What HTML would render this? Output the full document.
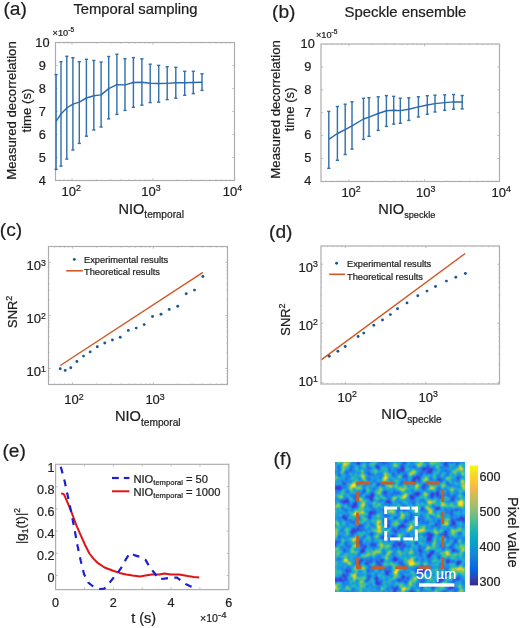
<!DOCTYPE html><html><head><meta charset="utf-8"><style>html,body{margin:0;padding:0;background:#fff;width:520px;height:628px;overflow:hidden}svg{display:block;font-family:"Liberation Sans", sans-serif;will-change:transform} text{stroke-width:0.22px}</style></head><body>
<svg width="520" height="628" viewBox="0 0 520 628">
<rect width="520" height="628" fill="#fff"/>
<text x="3.4" y="14.6" font-size="19.2" text-anchor="start" fill="#1e1e1e" stroke="#1e1e1e" >(a)</text>
<text x="73.4" y="14.4" font-size="14.8" text-anchor="start" fill="#1e1e1e" stroke="#1e1e1e" >Temporal sampling</text>
<rect x="55.5" y="42.5" width="179.0" height="138.0" fill="none" stroke="#adadad" stroke-width="1.2"/>
<line x1="55.5" y1="65.5" x2="57.7" y2="65.5" stroke="#adadad" stroke-width="0.8" />
<line x1="234.5" y1="65.5" x2="232.3" y2="65.5" stroke="#adadad" stroke-width="0.8" />
<line x1="55.5" y1="88.5" x2="57.7" y2="88.5" stroke="#adadad" stroke-width="0.8" />
<line x1="234.5" y1="88.5" x2="232.3" y2="88.5" stroke="#adadad" stroke-width="0.8" />
<line x1="55.5" y1="111.5" x2="57.7" y2="111.5" stroke="#adadad" stroke-width="0.8" />
<line x1="234.5" y1="111.5" x2="232.3" y2="111.5" stroke="#adadad" stroke-width="0.8" />
<line x1="55.5" y1="134.5" x2="57.7" y2="134.5" stroke="#adadad" stroke-width="0.8" />
<line x1="234.5" y1="134.5" x2="232.3" y2="134.5" stroke="#adadad" stroke-width="0.8" />
<line x1="55.5" y1="157.5" x2="57.7" y2="157.5" stroke="#adadad" stroke-width="0.8" />
<line x1="234.5" y1="157.5" x2="232.3" y2="157.5" stroke="#adadad" stroke-width="0.8" />
<text x="42.4" y="46.9" font-size="12.8" text-anchor="middle" fill="#1e1e1e" stroke="#1e1e1e" >10</text>
<text x="42.4" y="69.9" font-size="12.8" text-anchor="middle" fill="#1e1e1e" stroke="#1e1e1e" >9</text>
<text x="42.4" y="92.9" font-size="12.8" text-anchor="middle" fill="#1e1e1e" stroke="#1e1e1e" >8</text>
<text x="42.4" y="115.9" font-size="12.8" text-anchor="middle" fill="#1e1e1e" stroke="#1e1e1e" >7</text>
<text x="42.4" y="138.9" font-size="12.8" text-anchor="middle" fill="#1e1e1e" stroke="#1e1e1e" >6</text>
<text x="42.4" y="161.9" font-size="12.8" text-anchor="middle" fill="#1e1e1e" stroke="#1e1e1e" >5</text>
<text x="42.4" y="184.9" font-size="12.8" text-anchor="middle" fill="#1e1e1e" stroke="#1e1e1e" >4</text>
<text x="52.6" y="35.6" font-size="9.2" text-anchor="start" fill="#1e1e1e" stroke="#1e1e1e" >×10<tspan font-size="6.6" dy="-3.9">-5</tspan></text>
<line x1="72.0" y1="180.5" x2="72.0" y2="178.3" stroke="#adadad" stroke-width="0.8" />
<line x1="72.0" y1="42.5" x2="72.0" y2="44.7" stroke="#adadad" stroke-width="0.8" />
<line x1="153.0" y1="180.5" x2="153.0" y2="178.3" stroke="#adadad" stroke-width="0.8" />
<line x1="153.0" y1="42.5" x2="153.0" y2="44.7" stroke="#adadad" stroke-width="0.8" />
<line x1="59.45" y1="180.5" x2="59.45" y2="179.3" stroke="#adadad" stroke-width="0.6" />
<line x1="59.45" y1="42.5" x2="59.45" y2="43.7" stroke="#adadad" stroke-width="0.6" />
<line x1="64.15" y1="180.5" x2="64.15" y2="179.3" stroke="#adadad" stroke-width="0.6" />
<line x1="64.15" y1="42.5" x2="64.15" y2="43.7" stroke="#adadad" stroke-width="0.6" />
<line x1="68.29" y1="180.5" x2="68.29" y2="179.3" stroke="#adadad" stroke-width="0.6" />
<line x1="68.29" y1="42.5" x2="68.29" y2="43.7" stroke="#adadad" stroke-width="0.6" />
<line x1="96.38" y1="180.5" x2="96.38" y2="179.3" stroke="#adadad" stroke-width="0.6" />
<line x1="96.38" y1="42.5" x2="96.38" y2="43.7" stroke="#adadad" stroke-width="0.6" />
<line x1="110.65" y1="180.5" x2="110.65" y2="179.3" stroke="#adadad" stroke-width="0.6" />
<line x1="110.65" y1="42.5" x2="110.65" y2="43.7" stroke="#adadad" stroke-width="0.6" />
<line x1="120.77" y1="180.5" x2="120.77" y2="179.3" stroke="#adadad" stroke-width="0.6" />
<line x1="120.77" y1="42.5" x2="120.77" y2="43.7" stroke="#adadad" stroke-width="0.6" />
<line x1="128.62" y1="180.5" x2="128.62" y2="179.3" stroke="#adadad" stroke-width="0.6" />
<line x1="128.62" y1="42.5" x2="128.62" y2="43.7" stroke="#adadad" stroke-width="0.6" />
<line x1="135.03" y1="180.5" x2="135.03" y2="179.3" stroke="#adadad" stroke-width="0.6" />
<line x1="135.03" y1="42.5" x2="135.03" y2="43.7" stroke="#adadad" stroke-width="0.6" />
<line x1="140.45" y1="180.5" x2="140.45" y2="179.3" stroke="#adadad" stroke-width="0.6" />
<line x1="140.45" y1="42.5" x2="140.45" y2="43.7" stroke="#adadad" stroke-width="0.6" />
<line x1="145.15" y1="180.5" x2="145.15" y2="179.3" stroke="#adadad" stroke-width="0.6" />
<line x1="145.15" y1="42.5" x2="145.15" y2="43.7" stroke="#adadad" stroke-width="0.6" />
<line x1="149.29" y1="180.5" x2="149.29" y2="179.3" stroke="#adadad" stroke-width="0.6" />
<line x1="149.29" y1="42.5" x2="149.29" y2="43.7" stroke="#adadad" stroke-width="0.6" />
<line x1="177.38" y1="180.5" x2="177.38" y2="179.3" stroke="#adadad" stroke-width="0.6" />
<line x1="177.38" y1="42.5" x2="177.38" y2="43.7" stroke="#adadad" stroke-width="0.6" />
<line x1="191.65" y1="180.5" x2="191.65" y2="179.3" stroke="#adadad" stroke-width="0.6" />
<line x1="191.65" y1="42.5" x2="191.65" y2="43.7" stroke="#adadad" stroke-width="0.6" />
<line x1="201.77" y1="180.5" x2="201.77" y2="179.3" stroke="#adadad" stroke-width="0.6" />
<line x1="201.77" y1="42.5" x2="201.77" y2="43.7" stroke="#adadad" stroke-width="0.6" />
<line x1="209.62" y1="180.5" x2="209.62" y2="179.3" stroke="#adadad" stroke-width="0.6" />
<line x1="209.62" y1="42.5" x2="209.62" y2="43.7" stroke="#adadad" stroke-width="0.6" />
<line x1="216.03" y1="180.5" x2="216.03" y2="179.3" stroke="#adadad" stroke-width="0.6" />
<line x1="216.03" y1="42.5" x2="216.03" y2="43.7" stroke="#adadad" stroke-width="0.6" />
<line x1="221.45" y1="180.5" x2="221.45" y2="179.3" stroke="#adadad" stroke-width="0.6" />
<line x1="221.45" y1="42.5" x2="221.45" y2="43.7" stroke="#adadad" stroke-width="0.6" />
<line x1="226.15" y1="180.5" x2="226.15" y2="179.3" stroke="#adadad" stroke-width="0.6" />
<line x1="226.15" y1="42.5" x2="226.15" y2="43.7" stroke="#adadad" stroke-width="0.6" />
<line x1="230.29" y1="180.5" x2="230.29" y2="179.3" stroke="#adadad" stroke-width="0.6" />
<line x1="230.29" y1="42.5" x2="230.29" y2="43.7" stroke="#adadad" stroke-width="0.6" />
<text x="61.6" y="196.0" font-size="13" text-anchor="start" fill="#1e1e1e" stroke="#1e1e1e">10<tspan font-size="8.8" dy="-4.6">2</tspan></text>
<text x="141.2" y="196.0" font-size="13" text-anchor="start" fill="#1e1e1e" stroke="#1e1e1e">10<tspan font-size="8.8" dy="-4.6">3</tspan></text>
<text x="222.8" y="196.0" font-size="13" text-anchor="start" fill="#1e1e1e" stroke="#1e1e1e">10<tspan font-size="8.8" dy="-4.6">4</tspan></text>
<text x="118.4" y="214.0" font-size="14.6" fill="#1e1e1e" stroke="#1e1e1e">NIO<tspan font-size="10.2" dy="4.2">temporal</tspan></text>
<text transform="translate(15.7,110.5) rotate(-90)" font-size="13.2" text-anchor="middle" fill="#1e1e1e" stroke="#1e1e1e">Measured decorrelation</text>
<text transform="translate(30.8,110.5) rotate(-90)" font-size="13.2" text-anchor="middle" fill="#1e1e1e" stroke="#1e1e1e">time (s)</text>
<line x1="56.1" y1="74.6" x2="56.1" y2="169.4" stroke="#3672aa" stroke-width="1.45" />
<line x1="54.5" y1="74.6" x2="57.7" y2="74.6" stroke="#3672aa" stroke-width="1.45" />
<line x1="54.5" y1="169.4" x2="57.7" y2="169.4" stroke="#3672aa" stroke-width="1.45" />
<line x1="61.0" y1="61.7" x2="61.0" y2="166.1" stroke="#3672aa" stroke-width="1.45" />
<line x1="59.4" y1="61.7" x2="62.6" y2="61.7" stroke="#3672aa" stroke-width="1.45" />
<line x1="59.4" y1="166.1" x2="62.6" y2="166.1" stroke="#3672aa" stroke-width="1.45" />
<line x1="66.8" y1="56.3" x2="66.8" y2="159.1" stroke="#3672aa" stroke-width="1.45" />
<line x1="65.2" y1="56.3" x2="68.39999999999999" y2="56.3" stroke="#3672aa" stroke-width="1.45" />
<line x1="65.2" y1="159.1" x2="68.39999999999999" y2="159.1" stroke="#3672aa" stroke-width="1.45" />
<line x1="72.9" y1="57.7" x2="72.9" y2="150.0" stroke="#3672aa" stroke-width="1.45" />
<line x1="71.30000000000001" y1="57.7" x2="74.5" y2="57.7" stroke="#3672aa" stroke-width="1.45" />
<line x1="71.30000000000001" y1="150.0" x2="74.5" y2="150.0" stroke="#3672aa" stroke-width="1.45" />
<line x1="79.3" y1="61.7" x2="79.3" y2="143.4" stroke="#3672aa" stroke-width="1.45" />
<line x1="77.7" y1="61.7" x2="80.89999999999999" y2="61.7" stroke="#3672aa" stroke-width="1.45" />
<line x1="77.7" y1="143.4" x2="80.89999999999999" y2="143.4" stroke="#3672aa" stroke-width="1.45" />
<line x1="86.4" y1="59.3" x2="86.4" y2="136.2" stroke="#3672aa" stroke-width="1.45" />
<line x1="84.80000000000001" y1="59.3" x2="88.0" y2="59.3" stroke="#3672aa" stroke-width="1.45" />
<line x1="84.80000000000001" y1="136.2" x2="88.0" y2="136.2" stroke="#3672aa" stroke-width="1.45" />
<line x1="93.8" y1="60.5" x2="93.8" y2="130.0" stroke="#3672aa" stroke-width="1.45" />
<line x1="92.2" y1="60.5" x2="95.39999999999999" y2="60.5" stroke="#3672aa" stroke-width="1.45" />
<line x1="92.2" y1="130.0" x2="95.39999999999999" y2="130.0" stroke="#3672aa" stroke-width="1.45" />
<line x1="101.1" y1="62.0" x2="101.1" y2="127.0" stroke="#3672aa" stroke-width="1.45" />
<line x1="99.5" y1="62.0" x2="102.69999999999999" y2="62.0" stroke="#3672aa" stroke-width="1.45" />
<line x1="99.5" y1="127.0" x2="102.69999999999999" y2="127.0" stroke="#3672aa" stroke-width="1.45" />
<line x1="108.7" y1="56.5" x2="108.7" y2="118.9" stroke="#3672aa" stroke-width="1.45" />
<line x1="107.10000000000001" y1="56.5" x2="110.3" y2="56.5" stroke="#3672aa" stroke-width="1.45" />
<line x1="107.10000000000001" y1="118.9" x2="110.3" y2="118.9" stroke="#3672aa" stroke-width="1.45" />
<line x1="116.9" y1="54.3" x2="116.9" y2="114.4" stroke="#3672aa" stroke-width="1.45" />
<line x1="115.30000000000001" y1="54.3" x2="118.5" y2="54.3" stroke="#3672aa" stroke-width="1.45" />
<line x1="115.30000000000001" y1="114.4" x2="118.5" y2="114.4" stroke="#3672aa" stroke-width="1.45" />
<line x1="125.0" y1="58.7" x2="125.0" y2="110.4" stroke="#3672aa" stroke-width="1.45" />
<line x1="123.4" y1="58.7" x2="126.6" y2="58.7" stroke="#3672aa" stroke-width="1.45" />
<line x1="123.4" y1="110.4" x2="126.6" y2="110.4" stroke="#3672aa" stroke-width="1.45" />
<line x1="133.4" y1="57.6" x2="133.4" y2="107.3" stroke="#3672aa" stroke-width="1.45" />
<line x1="131.8" y1="57.6" x2="135.0" y2="57.6" stroke="#3672aa" stroke-width="1.45" />
<line x1="131.8" y1="107.3" x2="135.0" y2="107.3" stroke="#3672aa" stroke-width="1.45" />
<line x1="141.9" y1="58.8" x2="141.9" y2="105.2" stroke="#3672aa" stroke-width="1.45" />
<line x1="140.3" y1="58.8" x2="143.5" y2="58.8" stroke="#3672aa" stroke-width="1.45" />
<line x1="140.3" y1="105.2" x2="143.5" y2="105.2" stroke="#3672aa" stroke-width="1.45" />
<line x1="150.2" y1="64.2" x2="150.2" y2="102.6" stroke="#3672aa" stroke-width="1.45" />
<line x1="148.6" y1="64.2" x2="151.79999999999998" y2="64.2" stroke="#3672aa" stroke-width="1.45" />
<line x1="148.6" y1="102.6" x2="151.79999999999998" y2="102.6" stroke="#3672aa" stroke-width="1.45" />
<line x1="158.7" y1="65.4" x2="158.7" y2="102.2" stroke="#3672aa" stroke-width="1.45" />
<line x1="157.1" y1="65.4" x2="160.29999999999998" y2="65.4" stroke="#3672aa" stroke-width="1.45" />
<line x1="157.1" y1="102.2" x2="160.29999999999998" y2="102.2" stroke="#3672aa" stroke-width="1.45" />
<line x1="167.2" y1="66.7" x2="167.2" y2="99.6" stroke="#3672aa" stroke-width="1.45" />
<line x1="165.6" y1="66.7" x2="168.79999999999998" y2="66.7" stroke="#3672aa" stroke-width="1.45" />
<line x1="165.6" y1="99.6" x2="168.79999999999998" y2="99.6" stroke="#3672aa" stroke-width="1.45" />
<line x1="175.8" y1="67.3" x2="175.8" y2="98.2" stroke="#3672aa" stroke-width="1.45" />
<line x1="174.20000000000002" y1="67.3" x2="177.4" y2="67.3" stroke="#3672aa" stroke-width="1.45" />
<line x1="174.20000000000002" y1="98.2" x2="177.4" y2="98.2" stroke="#3672aa" stroke-width="1.45" />
<line x1="184.7" y1="71.3" x2="184.7" y2="95.3" stroke="#3672aa" stroke-width="1.45" />
<line x1="183.1" y1="71.3" x2="186.29999999999998" y2="71.3" stroke="#3672aa" stroke-width="1.45" />
<line x1="183.1" y1="95.3" x2="186.29999999999998" y2="95.3" stroke="#3672aa" stroke-width="1.45" />
<line x1="193.3" y1="71.3" x2="193.3" y2="93.6" stroke="#3672aa" stroke-width="1.45" />
<line x1="191.70000000000002" y1="71.3" x2="194.9" y2="71.3" stroke="#3672aa" stroke-width="1.45" />
<line x1="191.70000000000002" y1="93.6" x2="194.9" y2="93.6" stroke="#3672aa" stroke-width="1.45" />
<line x1="202.0" y1="73.8" x2="202.0" y2="90.4" stroke="#3672aa" stroke-width="1.45" />
<line x1="200.4" y1="73.8" x2="203.6" y2="73.8" stroke="#3672aa" stroke-width="1.45" />
<line x1="200.4" y1="90.4" x2="203.6" y2="90.4" stroke="#3672aa" stroke-width="1.45" />
<polyline points="56.1,121.3 61.0,113.9 66.8,108.0 72.9,104.1 79.3,102.1 86.4,98.0 93.8,95.7 101.1,94.9 108.7,88.6 116.9,84.6 125.0,84.9 133.4,82.5 141.9,82.3 150.2,83.2 158.7,83.5 167.2,83.4 175.8,82.8 184.7,82.7 193.3,82.5 202.0,82.3" fill="none" stroke="#2a6aac" stroke-width="1.45" stroke-linejoin="round"/>
<text x="272.0" y="17.6" font-size="19.2" text-anchor="start" fill="#1e1e1e" stroke="#1e1e1e" >(b)</text>
<text x="344.6" y="17.3" font-size="14.9" text-anchor="start" fill="#1e1e1e" stroke="#1e1e1e" >Speckle ensemble</text>
<rect x="321.0" y="44.0" width="178.5" height="137.5" fill="none" stroke="#adadad" stroke-width="1.2"/>
<line x1="321.0" y1="66.9" x2="323.2" y2="66.9" stroke="#adadad" stroke-width="0.8" />
<line x1="499.5" y1="66.9" x2="497.3" y2="66.9" stroke="#adadad" stroke-width="0.8" />
<line x1="321.0" y1="89.8" x2="323.2" y2="89.8" stroke="#adadad" stroke-width="0.8" />
<line x1="499.5" y1="89.8" x2="497.3" y2="89.8" stroke="#adadad" stroke-width="0.8" />
<line x1="321.0" y1="112.69999999999999" x2="323.2" y2="112.69999999999999" stroke="#adadad" stroke-width="0.8" />
<line x1="499.5" y1="112.69999999999999" x2="497.3" y2="112.69999999999999" stroke="#adadad" stroke-width="0.8" />
<line x1="321.0" y1="135.6" x2="323.2" y2="135.6" stroke="#adadad" stroke-width="0.8" />
<line x1="499.5" y1="135.6" x2="497.3" y2="135.6" stroke="#adadad" stroke-width="0.8" />
<line x1="321.0" y1="158.5" x2="323.2" y2="158.5" stroke="#adadad" stroke-width="0.8" />
<line x1="499.5" y1="158.5" x2="497.3" y2="158.5" stroke="#adadad" stroke-width="0.8" />
<text x="307.7" y="47.8" font-size="12.8" text-anchor="middle" fill="#1e1e1e" stroke="#1e1e1e" >10</text>
<text x="307.7" y="70.7" font-size="12.8" text-anchor="middle" fill="#1e1e1e" stroke="#1e1e1e" >9</text>
<text x="307.7" y="93.6" font-size="12.8" text-anchor="middle" fill="#1e1e1e" stroke="#1e1e1e" >8</text>
<text x="307.7" y="116.49999999999999" font-size="12.8" text-anchor="middle" fill="#1e1e1e" stroke="#1e1e1e" >7</text>
<text x="307.7" y="139.4" font-size="12.8" text-anchor="middle" fill="#1e1e1e" stroke="#1e1e1e" >6</text>
<text x="307.7" y="162.3" font-size="12.8" text-anchor="middle" fill="#1e1e1e" stroke="#1e1e1e" >5</text>
<text x="307.7" y="185.2" font-size="12.8" text-anchor="middle" fill="#1e1e1e" stroke="#1e1e1e" >4</text>
<text x="316.0" y="38.2" font-size="9.2" text-anchor="start" fill="#1e1e1e" stroke="#1e1e1e" >×10<tspan font-size="6.6" dy="-3.9">-5</tspan></text>
<line x1="349.0" y1="181.5" x2="349.0" y2="179.3" stroke="#adadad" stroke-width="0.8" />
<line x1="349.0" y1="44.0" x2="349.0" y2="46.2" stroke="#adadad" stroke-width="0.8" />
<line x1="424.5" y1="181.5" x2="424.5" y2="179.3" stroke="#adadad" stroke-width="0.8" />
<line x1="424.5" y1="44.0" x2="424.5" y2="46.2" stroke="#adadad" stroke-width="0.8" />
<line x1="326.33" y1="181.5" x2="326.33" y2="180.3" stroke="#adadad" stroke-width="0.6" />
<line x1="326.33" y1="44.0" x2="326.33" y2="45.2" stroke="#adadad" stroke-width="0.6" />
<line x1="332.29" y1="181.5" x2="332.29" y2="180.3" stroke="#adadad" stroke-width="0.6" />
<line x1="332.29" y1="44.0" x2="332.29" y2="45.2" stroke="#adadad" stroke-width="0.6" />
<line x1="337.34" y1="181.5" x2="337.34" y2="180.3" stroke="#adadad" stroke-width="0.6" />
<line x1="337.34" y1="44.0" x2="337.34" y2="45.2" stroke="#adadad" stroke-width="0.6" />
<line x1="341.7" y1="181.5" x2="341.7" y2="180.3" stroke="#adadad" stroke-width="0.6" />
<line x1="341.7" y1="44.0" x2="341.7" y2="45.2" stroke="#adadad" stroke-width="0.6" />
<line x1="345.55" y1="181.5" x2="345.55" y2="180.3" stroke="#adadad" stroke-width="0.6" />
<line x1="345.55" y1="44.0" x2="345.55" y2="45.2" stroke="#adadad" stroke-width="0.6" />
<line x1="371.67" y1="181.5" x2="371.67" y2="180.3" stroke="#adadad" stroke-width="0.6" />
<line x1="371.67" y1="44.0" x2="371.67" y2="45.2" stroke="#adadad" stroke-width="0.6" />
<line x1="384.93" y1="181.5" x2="384.93" y2="180.3" stroke="#adadad" stroke-width="0.6" />
<line x1="384.93" y1="44.0" x2="384.93" y2="45.2" stroke="#adadad" stroke-width="0.6" />
<line x1="394.34" y1="181.5" x2="394.34" y2="180.3" stroke="#adadad" stroke-width="0.6" />
<line x1="394.34" y1="44.0" x2="394.34" y2="45.2" stroke="#adadad" stroke-width="0.6" />
<line x1="401.63" y1="181.5" x2="401.63" y2="180.3" stroke="#adadad" stroke-width="0.6" />
<line x1="401.63" y1="44.0" x2="401.63" y2="45.2" stroke="#adadad" stroke-width="0.6" />
<line x1="407.59" y1="181.5" x2="407.59" y2="180.3" stroke="#adadad" stroke-width="0.6" />
<line x1="407.59" y1="44.0" x2="407.59" y2="45.2" stroke="#adadad" stroke-width="0.6" />
<line x1="412.64" y1="181.5" x2="412.64" y2="180.3" stroke="#adadad" stroke-width="0.6" />
<line x1="412.64" y1="44.0" x2="412.64" y2="45.2" stroke="#adadad" stroke-width="0.6" />
<line x1="417.0" y1="181.5" x2="417.0" y2="180.3" stroke="#adadad" stroke-width="0.6" />
<line x1="417.0" y1="44.0" x2="417.0" y2="45.2" stroke="#adadad" stroke-width="0.6" />
<line x1="420.85" y1="181.5" x2="420.85" y2="180.3" stroke="#adadad" stroke-width="0.6" />
<line x1="420.85" y1="44.0" x2="420.85" y2="45.2" stroke="#adadad" stroke-width="0.6" />
<line x1="446.97" y1="181.5" x2="446.97" y2="180.3" stroke="#adadad" stroke-width="0.6" />
<line x1="446.97" y1="44.0" x2="446.97" y2="45.2" stroke="#adadad" stroke-width="0.6" />
<line x1="460.23" y1="181.5" x2="460.23" y2="180.3" stroke="#adadad" stroke-width="0.6" />
<line x1="460.23" y1="44.0" x2="460.23" y2="45.2" stroke="#adadad" stroke-width="0.6" />
<line x1="469.64" y1="181.5" x2="469.64" y2="180.3" stroke="#adadad" stroke-width="0.6" />
<line x1="469.64" y1="44.0" x2="469.64" y2="45.2" stroke="#adadad" stroke-width="0.6" />
<line x1="476.93" y1="181.5" x2="476.93" y2="180.3" stroke="#adadad" stroke-width="0.6" />
<line x1="476.93" y1="44.0" x2="476.93" y2="45.2" stroke="#adadad" stroke-width="0.6" />
<line x1="482.89" y1="181.5" x2="482.89" y2="180.3" stroke="#adadad" stroke-width="0.6" />
<line x1="482.89" y1="44.0" x2="482.89" y2="45.2" stroke="#adadad" stroke-width="0.6" />
<line x1="487.94" y1="181.5" x2="487.94" y2="180.3" stroke="#adadad" stroke-width="0.6" />
<line x1="487.94" y1="44.0" x2="487.94" y2="45.2" stroke="#adadad" stroke-width="0.6" />
<line x1="492.3" y1="181.5" x2="492.3" y2="180.3" stroke="#adadad" stroke-width="0.6" />
<line x1="492.3" y1="44.0" x2="492.3" y2="45.2" stroke="#adadad" stroke-width="0.6" />
<line x1="496.15" y1="181.5" x2="496.15" y2="180.3" stroke="#adadad" stroke-width="0.6" />
<line x1="496.15" y1="44.0" x2="496.15" y2="45.2" stroke="#adadad" stroke-width="0.6" />
<text x="341.4" y="197.0" font-size="13" text-anchor="start" fill="#1e1e1e" stroke="#1e1e1e">10<tspan font-size="8.8" dy="-4.6">2</tspan></text>
<text x="416.0" y="197.0" font-size="13" text-anchor="start" fill="#1e1e1e" stroke="#1e1e1e">10<tspan font-size="8.8" dy="-4.6">3</tspan></text>
<text x="491.6" y="197.0" font-size="13" text-anchor="start" fill="#1e1e1e" stroke="#1e1e1e">10<tspan font-size="8.8" dy="-4.6">4</tspan></text>
<text x="378.2" y="214.0" font-size="14.6" fill="#1e1e1e" stroke="#1e1e1e">NIO<tspan font-size="9.2" dy="4.0">speckle</tspan></text>
<text transform="translate(279.8,109.4) rotate(-90)" font-size="13.2" text-anchor="middle" fill="#1e1e1e" stroke="#1e1e1e">Measured decorrelation</text>
<text transform="translate(294.4,109.4) rotate(-90)" font-size="13.2" text-anchor="middle" fill="#1e1e1e" stroke="#1e1e1e">time (s)</text>
<line x1="328.8" y1="111.4" x2="328.8" y2="168.3" stroke="#3672aa" stroke-width="1.45" />
<line x1="327.2" y1="111.4" x2="330.40000000000003" y2="111.4" stroke="#3672aa" stroke-width="1.45" />
<line x1="327.2" y1="168.3" x2="330.40000000000003" y2="168.3" stroke="#3672aa" stroke-width="1.45" />
<line x1="337.4" y1="106.5" x2="337.4" y2="160.3" stroke="#3672aa" stroke-width="1.45" />
<line x1="335.79999999999995" y1="106.5" x2="339.0" y2="106.5" stroke="#3672aa" stroke-width="1.45" />
<line x1="335.79999999999995" y1="160.3" x2="339.0" y2="160.3" stroke="#3672aa" stroke-width="1.45" />
<line x1="345.2" y1="104.2" x2="345.2" y2="154.5" stroke="#3672aa" stroke-width="1.45" />
<line x1="343.59999999999997" y1="104.2" x2="346.8" y2="104.2" stroke="#3672aa" stroke-width="1.45" />
<line x1="343.59999999999997" y1="154.5" x2="346.8" y2="154.5" stroke="#3672aa" stroke-width="1.45" />
<line x1="352.0" y1="101.8" x2="352.0" y2="149.1" stroke="#3672aa" stroke-width="1.45" />
<line x1="350.4" y1="101.8" x2="353.6" y2="101.8" stroke="#3672aa" stroke-width="1.45" />
<line x1="350.4" y1="149.1" x2="353.6" y2="149.1" stroke="#3672aa" stroke-width="1.45" />
<line x1="363.5" y1="98.3" x2="363.5" y2="139.4" stroke="#3672aa" stroke-width="1.45" />
<line x1="361.9" y1="98.3" x2="365.1" y2="98.3" stroke="#3672aa" stroke-width="1.45" />
<line x1="361.9" y1="139.4" x2="365.1" y2="139.4" stroke="#3672aa" stroke-width="1.45" />
<line x1="369.0" y1="97.7" x2="369.0" y2="136.3" stroke="#3672aa" stroke-width="1.45" />
<line x1="367.4" y1="97.7" x2="370.6" y2="97.7" stroke="#3672aa" stroke-width="1.45" />
<line x1="367.4" y1="136.3" x2="370.6" y2="136.3" stroke="#3672aa" stroke-width="1.45" />
<line x1="378.2" y1="96.8" x2="378.2" y2="130.4" stroke="#3672aa" stroke-width="1.45" />
<line x1="376.59999999999997" y1="96.8" x2="379.8" y2="96.8" stroke="#3672aa" stroke-width="1.45" />
<line x1="376.59999999999997" y1="130.4" x2="379.8" y2="130.4" stroke="#3672aa" stroke-width="1.45" />
<line x1="386.4" y1="95.6" x2="386.4" y2="126.4" stroke="#3672aa" stroke-width="1.45" />
<line x1="384.79999999999995" y1="95.6" x2="388.0" y2="95.6" stroke="#3672aa" stroke-width="1.45" />
<line x1="384.79999999999995" y1="126.4" x2="388.0" y2="126.4" stroke="#3672aa" stroke-width="1.45" />
<line x1="393.7" y1="96.4" x2="393.7" y2="124.1" stroke="#3672aa" stroke-width="1.45" />
<line x1="392.09999999999997" y1="96.4" x2="395.3" y2="96.4" stroke="#3672aa" stroke-width="1.45" />
<line x1="392.09999999999997" y1="124.1" x2="395.3" y2="124.1" stroke="#3672aa" stroke-width="1.45" />
<line x1="400.3" y1="98.2" x2="400.3" y2="123.3" stroke="#3672aa" stroke-width="1.45" />
<line x1="398.7" y1="98.2" x2="401.90000000000003" y2="98.2" stroke="#3672aa" stroke-width="1.45" />
<line x1="398.7" y1="123.3" x2="401.90000000000003" y2="123.3" stroke="#3672aa" stroke-width="1.45" />
<line x1="408.8" y1="97.8" x2="408.8" y2="120.4" stroke="#3672aa" stroke-width="1.45" />
<line x1="407.2" y1="97.8" x2="410.40000000000003" y2="97.8" stroke="#3672aa" stroke-width="1.45" />
<line x1="407.2" y1="120.4" x2="410.40000000000003" y2="120.4" stroke="#3672aa" stroke-width="1.45" />
<line x1="418.4" y1="96.8" x2="418.4" y2="117.0" stroke="#3672aa" stroke-width="1.45" />
<line x1="416.79999999999995" y1="96.8" x2="420.0" y2="96.8" stroke="#3672aa" stroke-width="1.45" />
<line x1="416.79999999999995" y1="117.0" x2="420.0" y2="117.0" stroke="#3672aa" stroke-width="1.45" />
<line x1="427.3" y1="95.7" x2="427.3" y2="114.3" stroke="#3672aa" stroke-width="1.45" />
<line x1="425.7" y1="95.7" x2="428.90000000000003" y2="95.7" stroke="#3672aa" stroke-width="1.45" />
<line x1="425.7" y1="114.3" x2="428.90000000000003" y2="114.3" stroke="#3672aa" stroke-width="1.45" />
<line x1="435.0" y1="95.2" x2="435.0" y2="112.0" stroke="#3672aa" stroke-width="1.45" />
<line x1="433.4" y1="95.2" x2="436.6" y2="95.2" stroke="#3672aa" stroke-width="1.45" />
<line x1="433.4" y1="112.0" x2="436.6" y2="112.0" stroke="#3672aa" stroke-width="1.45" />
<line x1="444.7" y1="94.8" x2="444.7" y2="110.3" stroke="#3672aa" stroke-width="1.45" />
<line x1="443.09999999999997" y1="94.8" x2="446.3" y2="94.8" stroke="#3672aa" stroke-width="1.45" />
<line x1="443.09999999999997" y1="110.3" x2="446.3" y2="110.3" stroke="#3672aa" stroke-width="1.45" />
<line x1="453.6" y1="94.5" x2="453.6" y2="109.2" stroke="#3672aa" stroke-width="1.45" />
<line x1="452.0" y1="94.5" x2="455.20000000000005" y2="94.5" stroke="#3672aa" stroke-width="1.45" />
<line x1="452.0" y1="109.2" x2="455.20000000000005" y2="109.2" stroke="#3672aa" stroke-width="1.45" />
<line x1="462.2" y1="95.5" x2="462.2" y2="108.9" stroke="#3672aa" stroke-width="1.45" />
<line x1="460.59999999999997" y1="95.5" x2="463.8" y2="95.5" stroke="#3672aa" stroke-width="1.45" />
<line x1="460.59999999999997" y1="108.9" x2="463.8" y2="108.9" stroke="#3672aa" stroke-width="1.45" />
<polyline points="328.8,139.4 337.4,133.5 345.2,129.6 352.0,125.9 363.5,119.0 369.0,117.1 378.2,113.5 386.4,110.8 393.7,110.3 400.3,110.6 408.8,109.3 418.4,106.9 427.3,105.0 435.0,103.6 444.7,102.6 453.6,101.9 462.2,101.9" fill="none" stroke="#2a6aac" stroke-width="1.45" stroke-linejoin="round"/>
<text x="-0.2" y="235.6" font-size="19.2" text-anchor="start" fill="#1e1e1e" stroke="#1e1e1e" >(c)</text>
<rect x="48.5" y="246.5" width="179.0" height="138.0" fill="none" stroke="#adadad" stroke-width="1.2"/>
<line x1="48.5" y1="262.3" x2="50.7" y2="262.3" stroke="#adadad" stroke-width="0.8" />
<line x1="227.5" y1="262.3" x2="225.3" y2="262.3" stroke="#adadad" stroke-width="0.8" />
<line x1="48.5" y1="315.40000000000003" x2="50.7" y2="315.40000000000003" stroke="#adadad" stroke-width="0.8" />
<line x1="227.5" y1="315.40000000000003" x2="225.3" y2="315.40000000000003" stroke="#adadad" stroke-width="0.8" />
<line x1="48.5" y1="368.5" x2="50.7" y2="368.5" stroke="#adadad" stroke-width="0.8" />
<line x1="227.5" y1="368.5" x2="225.3" y2="368.5" stroke="#adadad" stroke-width="0.8" />
<line x1="48.5" y1="380.28" x2="49.7" y2="380.28" stroke="#adadad" stroke-width="0.6" />
<line x1="227.5" y1="380.28" x2="226.3" y2="380.28" stroke="#adadad" stroke-width="0.6" />
<line x1="48.5" y1="376.73" x2="49.7" y2="376.73" stroke="#adadad" stroke-width="0.6" />
<line x1="227.5" y1="376.73" x2="226.3" y2="376.73" stroke="#adadad" stroke-width="0.6" />
<line x1="48.5" y1="373.65" x2="49.7" y2="373.65" stroke="#adadad" stroke-width="0.6" />
<line x1="227.5" y1="373.65" x2="226.3" y2="373.65" stroke="#adadad" stroke-width="0.6" />
<line x1="48.5" y1="370.93" x2="49.7" y2="370.93" stroke="#adadad" stroke-width="0.6" />
<line x1="227.5" y1="370.93" x2="226.3" y2="370.93" stroke="#adadad" stroke-width="0.6" />
<line x1="48.5" y1="352.52" x2="49.7" y2="352.52" stroke="#adadad" stroke-width="0.6" />
<line x1="227.5" y1="352.52" x2="226.3" y2="352.52" stroke="#adadad" stroke-width="0.6" />
<line x1="48.5" y1="343.16" x2="49.7" y2="343.16" stroke="#adadad" stroke-width="0.6" />
<line x1="227.5" y1="343.16" x2="226.3" y2="343.16" stroke="#adadad" stroke-width="0.6" />
<line x1="48.5" y1="336.53" x2="49.7" y2="336.53" stroke="#adadad" stroke-width="0.6" />
<line x1="227.5" y1="336.53" x2="226.3" y2="336.53" stroke="#adadad" stroke-width="0.6" />
<line x1="48.5" y1="331.38" x2="49.7" y2="331.38" stroke="#adadad" stroke-width="0.6" />
<line x1="227.5" y1="331.38" x2="226.3" y2="331.38" stroke="#adadad" stroke-width="0.6" />
<line x1="48.5" y1="327.18" x2="49.7" y2="327.18" stroke="#adadad" stroke-width="0.6" />
<line x1="227.5" y1="327.18" x2="226.3" y2="327.18" stroke="#adadad" stroke-width="0.6" />
<line x1="48.5" y1="323.63" x2="49.7" y2="323.63" stroke="#adadad" stroke-width="0.6" />
<line x1="227.5" y1="323.63" x2="226.3" y2="323.63" stroke="#adadad" stroke-width="0.6" />
<line x1="48.5" y1="320.55" x2="49.7" y2="320.55" stroke="#adadad" stroke-width="0.6" />
<line x1="227.5" y1="320.55" x2="226.3" y2="320.55" stroke="#adadad" stroke-width="0.6" />
<line x1="48.5" y1="317.83" x2="49.7" y2="317.83" stroke="#adadad" stroke-width="0.6" />
<line x1="227.5" y1="317.83" x2="226.3" y2="317.83" stroke="#adadad" stroke-width="0.6" />
<line x1="48.5" y1="299.42" x2="49.7" y2="299.42" stroke="#adadad" stroke-width="0.6" />
<line x1="227.5" y1="299.42" x2="226.3" y2="299.42" stroke="#adadad" stroke-width="0.6" />
<line x1="48.5" y1="290.06" x2="49.7" y2="290.06" stroke="#adadad" stroke-width="0.6" />
<line x1="227.5" y1="290.06" x2="226.3" y2="290.06" stroke="#adadad" stroke-width="0.6" />
<line x1="48.5" y1="283.43" x2="49.7" y2="283.43" stroke="#adadad" stroke-width="0.6" />
<line x1="227.5" y1="283.43" x2="226.3" y2="283.43" stroke="#adadad" stroke-width="0.6" />
<line x1="48.5" y1="278.28" x2="49.7" y2="278.28" stroke="#adadad" stroke-width="0.6" />
<line x1="227.5" y1="278.28" x2="226.3" y2="278.28" stroke="#adadad" stroke-width="0.6" />
<line x1="48.5" y1="274.08" x2="49.7" y2="274.08" stroke="#adadad" stroke-width="0.6" />
<line x1="227.5" y1="274.08" x2="226.3" y2="274.08" stroke="#adadad" stroke-width="0.6" />
<line x1="48.5" y1="270.53" x2="49.7" y2="270.53" stroke="#adadad" stroke-width="0.6" />
<line x1="227.5" y1="270.53" x2="226.3" y2="270.53" stroke="#adadad" stroke-width="0.6" />
<line x1="48.5" y1="267.45" x2="49.7" y2="267.45" stroke="#adadad" stroke-width="0.6" />
<line x1="227.5" y1="267.45" x2="226.3" y2="267.45" stroke="#adadad" stroke-width="0.6" />
<line x1="48.5" y1="264.73" x2="49.7" y2="264.73" stroke="#adadad" stroke-width="0.6" />
<line x1="227.5" y1="264.73" x2="226.3" y2="264.73" stroke="#adadad" stroke-width="0.6" />
<text x="26.6" y="270.2" font-size="13" text-anchor="start" fill="#1e1e1e" stroke="#1e1e1e">10<tspan font-size="8.8" dy="-4.6">3</tspan></text>
<text x="26.6" y="323.3" font-size="13" text-anchor="start" fill="#1e1e1e" stroke="#1e1e1e">10<tspan font-size="8.8" dy="-4.6">2</tspan></text>
<text x="26.6" y="376.4" font-size="13" text-anchor="start" fill="#1e1e1e" stroke="#1e1e1e">10<tspan font-size="8.8" dy="-4.6">1</tspan></text>
<line x1="72.4" y1="384.5" x2="72.4" y2="382.3" stroke="#adadad" stroke-width="0.8" />
<line x1="72.4" y1="246.5" x2="72.4" y2="248.7" stroke="#adadad" stroke-width="0.8" />
<line x1="153.4" y1="384.5" x2="153.4" y2="382.3" stroke="#adadad" stroke-width="0.8" />
<line x1="153.4" y1="246.5" x2="153.4" y2="248.7" stroke="#adadad" stroke-width="0.8" />
<line x1="54.43" y1="384.5" x2="54.43" y2="383.3" stroke="#adadad" stroke-width="0.6" />
<line x1="54.43" y1="246.5" x2="54.43" y2="247.7" stroke="#adadad" stroke-width="0.6" />
<line x1="59.85" y1="384.5" x2="59.85" y2="383.3" stroke="#adadad" stroke-width="0.6" />
<line x1="59.85" y1="246.5" x2="59.85" y2="247.7" stroke="#adadad" stroke-width="0.6" />
<line x1="64.55" y1="384.5" x2="64.55" y2="383.3" stroke="#adadad" stroke-width="0.6" />
<line x1="64.55" y1="246.5" x2="64.55" y2="247.7" stroke="#adadad" stroke-width="0.6" />
<line x1="68.69" y1="384.5" x2="68.69" y2="383.3" stroke="#adadad" stroke-width="0.6" />
<line x1="68.69" y1="246.5" x2="68.69" y2="247.7" stroke="#adadad" stroke-width="0.6" />
<line x1="96.78" y1="384.5" x2="96.78" y2="383.3" stroke="#adadad" stroke-width="0.6" />
<line x1="96.78" y1="246.5" x2="96.78" y2="247.7" stroke="#adadad" stroke-width="0.6" />
<line x1="111.05" y1="384.5" x2="111.05" y2="383.3" stroke="#adadad" stroke-width="0.6" />
<line x1="111.05" y1="246.5" x2="111.05" y2="247.7" stroke="#adadad" stroke-width="0.6" />
<line x1="121.17" y1="384.5" x2="121.17" y2="383.3" stroke="#adadad" stroke-width="0.6" />
<line x1="121.17" y1="246.5" x2="121.17" y2="247.7" stroke="#adadad" stroke-width="0.6" />
<line x1="129.02" y1="384.5" x2="129.02" y2="383.3" stroke="#adadad" stroke-width="0.6" />
<line x1="129.02" y1="246.5" x2="129.02" y2="247.7" stroke="#adadad" stroke-width="0.6" />
<line x1="135.43" y1="384.5" x2="135.43" y2="383.3" stroke="#adadad" stroke-width="0.6" />
<line x1="135.43" y1="246.5" x2="135.43" y2="247.7" stroke="#adadad" stroke-width="0.6" />
<line x1="140.85" y1="384.5" x2="140.85" y2="383.3" stroke="#adadad" stroke-width="0.6" />
<line x1="140.85" y1="246.5" x2="140.85" y2="247.7" stroke="#adadad" stroke-width="0.6" />
<line x1="145.55" y1="384.5" x2="145.55" y2="383.3" stroke="#adadad" stroke-width="0.6" />
<line x1="145.55" y1="246.5" x2="145.55" y2="247.7" stroke="#adadad" stroke-width="0.6" />
<line x1="149.69" y1="384.5" x2="149.69" y2="383.3" stroke="#adadad" stroke-width="0.6" />
<line x1="149.69" y1="246.5" x2="149.69" y2="247.7" stroke="#adadad" stroke-width="0.6" />
<line x1="177.78" y1="384.5" x2="177.78" y2="383.3" stroke="#adadad" stroke-width="0.6" />
<line x1="177.78" y1="246.5" x2="177.78" y2="247.7" stroke="#adadad" stroke-width="0.6" />
<line x1="192.05" y1="384.5" x2="192.05" y2="383.3" stroke="#adadad" stroke-width="0.6" />
<line x1="192.05" y1="246.5" x2="192.05" y2="247.7" stroke="#adadad" stroke-width="0.6" />
<line x1="202.17" y1="384.5" x2="202.17" y2="383.3" stroke="#adadad" stroke-width="0.6" />
<line x1="202.17" y1="246.5" x2="202.17" y2="247.7" stroke="#adadad" stroke-width="0.6" />
<line x1="210.02" y1="384.5" x2="210.02" y2="383.3" stroke="#adadad" stroke-width="0.6" />
<line x1="210.02" y1="246.5" x2="210.02" y2="247.7" stroke="#adadad" stroke-width="0.6" />
<line x1="216.43" y1="384.5" x2="216.43" y2="383.3" stroke="#adadad" stroke-width="0.6" />
<line x1="216.43" y1="246.5" x2="216.43" y2="247.7" stroke="#adadad" stroke-width="0.6" />
<line x1="221.85" y1="384.5" x2="221.85" y2="383.3" stroke="#adadad" stroke-width="0.6" />
<line x1="221.85" y1="246.5" x2="221.85" y2="247.7" stroke="#adadad" stroke-width="0.6" />
<line x1="226.55" y1="384.5" x2="226.55" y2="383.3" stroke="#adadad" stroke-width="0.6" />
<line x1="226.55" y1="246.5" x2="226.55" y2="247.7" stroke="#adadad" stroke-width="0.6" />
<text x="64.2" y="404.4" font-size="13" text-anchor="start" fill="#1e1e1e" stroke="#1e1e1e">10<tspan font-size="8.8" dy="-4.6">2</tspan></text>
<text x="145.4" y="404.4" font-size="13" text-anchor="start" fill="#1e1e1e" stroke="#1e1e1e">10<tspan font-size="8.8" dy="-4.6">3</tspan></text>
<text x="115.0" y="421.2" font-size="14.6" fill="#1e1e1e" stroke="#1e1e1e">NIO<tspan font-size="10.2" dy="4.6">temporal</tspan></text>
<text transform="translate(16.8,311.8) rotate(-90)" font-size="12.9" text-anchor="middle" fill="#1e1e1e" stroke="#1e1e1e">SNR<tspan font-size="9" dy="-5.2">2</tspan></text>
<circle cx="74.3" cy="259.4" r="1.45" fill="#1d5690"/>
<line x1="66.3" y1="270.8" x2="82.8" y2="270.8" stroke="#d05a26" stroke-width="1.6" />
<text x="84.0" y="262.8" font-size="9.3" text-anchor="start" fill="#1e1e1e" stroke="#1e1e1e" >Experimental results</text>
<text x="84.0" y="275.0" font-size="9.3" text-anchor="start" fill="#1e1e1e" stroke="#1e1e1e" >Theoretical results</text>
<line x1="60.3" y1="365.5" x2="202.9" y2="272.4" stroke="#d05a26" stroke-width="1.45" />
<circle cx="60.2" cy="368.7" r="1.45" fill="#1d5690"/>
<circle cx="65.2" cy="370.4" r="1.45" fill="#1d5690"/>
<circle cx="70.8" cy="367.8" r="1.45" fill="#1d5690"/>
<circle cx="76.9" cy="361.5" r="1.45" fill="#1d5690"/>
<circle cx="83.5" cy="356.1" r="1.45" fill="#1d5690"/>
<circle cx="90.2" cy="351.9" r="1.45" fill="#1d5690"/>
<circle cx="97.3" cy="346.7" r="1.45" fill="#1d5690"/>
<circle cx="104.8" cy="343.0" r="1.45" fill="#1d5690"/>
<circle cx="112.4" cy="340.0" r="1.45" fill="#1d5690"/>
<circle cx="120.2" cy="337.3" r="1.45" fill="#1d5690"/>
<circle cx="128.3" cy="330.4" r="1.45" fill="#1d5690"/>
<circle cx="136.2" cy="328.1" r="1.45" fill="#1d5690"/>
<circle cx="144.2" cy="324.6" r="1.45" fill="#1d5690"/>
<circle cx="152.5" cy="316.5" r="1.45" fill="#1d5690"/>
<circle cx="161.0" cy="314.2" r="1.45" fill="#1d5690"/>
<circle cx="169.2" cy="309.4" r="1.45" fill="#1d5690"/>
<circle cx="177.7" cy="306.3" r="1.45" fill="#1d5690"/>
<circle cx="186.2" cy="293.8" r="1.45" fill="#1d5690"/>
<circle cx="194.5" cy="290.1" r="1.45" fill="#1d5690"/>
<circle cx="202.9" cy="276.5" r="1.45" fill="#1d5690"/>
<text x="269.0" y="238.4" font-size="19.2" text-anchor="start" fill="#1e1e1e" stroke="#1e1e1e" >(d)</text>
<rect x="321.0" y="246.0" width="178.5" height="138.0" fill="none" stroke="#adadad" stroke-width="1.2"/>
<line x1="321.0" y1="264.2" x2="323.2" y2="264.2" stroke="#adadad" stroke-width="0.8" />
<line x1="499.5" y1="264.2" x2="497.3" y2="264.2" stroke="#adadad" stroke-width="0.8" />
<line x1="321.0" y1="323.4" x2="323.2" y2="323.4" stroke="#adadad" stroke-width="0.8" />
<line x1="499.5" y1="323.4" x2="497.3" y2="323.4" stroke="#adadad" stroke-width="0.8" />
<line x1="321.0" y1="382.6" x2="323.2" y2="382.6" stroke="#adadad" stroke-width="0.8" />
<line x1="499.5" y1="382.6" x2="497.3" y2="382.6" stroke="#adadad" stroke-width="0.8" />
<line x1="321.0" y1="364.78" x2="322.2" y2="364.78" stroke="#adadad" stroke-width="0.6" />
<line x1="499.5" y1="364.78" x2="498.3" y2="364.78" stroke="#adadad" stroke-width="0.6" />
<line x1="321.0" y1="354.35" x2="322.2" y2="354.35" stroke="#adadad" stroke-width="0.6" />
<line x1="499.5" y1="354.35" x2="498.3" y2="354.35" stroke="#adadad" stroke-width="0.6" />
<line x1="321.0" y1="346.96" x2="322.2" y2="346.96" stroke="#adadad" stroke-width="0.6" />
<line x1="499.5" y1="346.96" x2="498.3" y2="346.96" stroke="#adadad" stroke-width="0.6" />
<line x1="321.0" y1="341.22" x2="322.2" y2="341.22" stroke="#adadad" stroke-width="0.6" />
<line x1="499.5" y1="341.22" x2="498.3" y2="341.22" stroke="#adadad" stroke-width="0.6" />
<line x1="321.0" y1="336.53" x2="322.2" y2="336.53" stroke="#adadad" stroke-width="0.6" />
<line x1="499.5" y1="336.53" x2="498.3" y2="336.53" stroke="#adadad" stroke-width="0.6" />
<line x1="321.0" y1="332.57" x2="322.2" y2="332.57" stroke="#adadad" stroke-width="0.6" />
<line x1="499.5" y1="332.57" x2="498.3" y2="332.57" stroke="#adadad" stroke-width="0.6" />
<line x1="321.0" y1="329.14" x2="322.2" y2="329.14" stroke="#adadad" stroke-width="0.6" />
<line x1="499.5" y1="329.14" x2="498.3" y2="329.14" stroke="#adadad" stroke-width="0.6" />
<line x1="321.0" y1="326.11" x2="322.2" y2="326.11" stroke="#adadad" stroke-width="0.6" />
<line x1="499.5" y1="326.11" x2="498.3" y2="326.11" stroke="#adadad" stroke-width="0.6" />
<line x1="321.0" y1="305.58" x2="322.2" y2="305.58" stroke="#adadad" stroke-width="0.6" />
<line x1="499.5" y1="305.58" x2="498.3" y2="305.58" stroke="#adadad" stroke-width="0.6" />
<line x1="321.0" y1="295.15" x2="322.2" y2="295.15" stroke="#adadad" stroke-width="0.6" />
<line x1="499.5" y1="295.15" x2="498.3" y2="295.15" stroke="#adadad" stroke-width="0.6" />
<line x1="321.0" y1="287.76" x2="322.2" y2="287.76" stroke="#adadad" stroke-width="0.6" />
<line x1="499.5" y1="287.76" x2="498.3" y2="287.76" stroke="#adadad" stroke-width="0.6" />
<line x1="321.0" y1="282.02" x2="322.2" y2="282.02" stroke="#adadad" stroke-width="0.6" />
<line x1="499.5" y1="282.02" x2="498.3" y2="282.02" stroke="#adadad" stroke-width="0.6" />
<line x1="321.0" y1="277.33" x2="322.2" y2="277.33" stroke="#adadad" stroke-width="0.6" />
<line x1="499.5" y1="277.33" x2="498.3" y2="277.33" stroke="#adadad" stroke-width="0.6" />
<line x1="321.0" y1="273.37" x2="322.2" y2="273.37" stroke="#adadad" stroke-width="0.6" />
<line x1="499.5" y1="273.37" x2="498.3" y2="273.37" stroke="#adadad" stroke-width="0.6" />
<line x1="321.0" y1="269.94" x2="322.2" y2="269.94" stroke="#adadad" stroke-width="0.6" />
<line x1="499.5" y1="269.94" x2="498.3" y2="269.94" stroke="#adadad" stroke-width="0.6" />
<line x1="321.0" y1="266.91" x2="322.2" y2="266.91" stroke="#adadad" stroke-width="0.6" />
<line x1="499.5" y1="266.91" x2="498.3" y2="266.91" stroke="#adadad" stroke-width="0.6" />
<text x="298.6" y="271.7" font-size="13" text-anchor="start" fill="#1e1e1e" stroke="#1e1e1e">10<tspan font-size="8.8" dy="-4.6">3</tspan></text>
<text x="298.6" y="330.0" font-size="13" text-anchor="start" fill="#1e1e1e" stroke="#1e1e1e">10<tspan font-size="8.8" dy="-4.6">2</tspan></text>
<text x="298.6" y="386.4" font-size="13" text-anchor="start" fill="#1e1e1e" stroke="#1e1e1e">10<tspan font-size="8.8" dy="-4.6">1</tspan></text>
<line x1="345.3" y1="384.0" x2="345.3" y2="381.8" stroke="#adadad" stroke-width="0.8" />
<line x1="345.3" y1="246.0" x2="345.3" y2="248.2" stroke="#adadad" stroke-width="0.8" />
<line x1="425.8" y1="384.0" x2="425.8" y2="381.8" stroke="#adadad" stroke-width="0.8" />
<line x1="425.8" y1="246.0" x2="425.8" y2="248.2" stroke="#adadad" stroke-width="0.8" />
<line x1="327.44" y1="384.0" x2="327.44" y2="382.8" stroke="#adadad" stroke-width="0.6" />
<line x1="327.44" y1="246.0" x2="327.44" y2="247.2" stroke="#adadad" stroke-width="0.6" />
<line x1="332.83" y1="384.0" x2="332.83" y2="382.8" stroke="#adadad" stroke-width="0.6" />
<line x1="332.83" y1="246.0" x2="332.83" y2="247.2" stroke="#adadad" stroke-width="0.6" />
<line x1="337.5" y1="384.0" x2="337.5" y2="382.8" stroke="#adadad" stroke-width="0.6" />
<line x1="337.5" y1="246.0" x2="337.5" y2="247.2" stroke="#adadad" stroke-width="0.6" />
<line x1="341.62" y1="384.0" x2="341.62" y2="382.8" stroke="#adadad" stroke-width="0.6" />
<line x1="341.62" y1="246.0" x2="341.62" y2="247.2" stroke="#adadad" stroke-width="0.6" />
<line x1="369.53" y1="384.0" x2="369.53" y2="382.8" stroke="#adadad" stroke-width="0.6" />
<line x1="369.53" y1="246.0" x2="369.53" y2="247.2" stroke="#adadad" stroke-width="0.6" />
<line x1="383.71" y1="384.0" x2="383.71" y2="382.8" stroke="#adadad" stroke-width="0.6" />
<line x1="383.71" y1="246.0" x2="383.71" y2="247.2" stroke="#adadad" stroke-width="0.6" />
<line x1="393.77" y1="384.0" x2="393.77" y2="382.8" stroke="#adadad" stroke-width="0.6" />
<line x1="393.77" y1="246.0" x2="393.77" y2="247.2" stroke="#adadad" stroke-width="0.6" />
<line x1="401.57" y1="384.0" x2="401.57" y2="382.8" stroke="#adadad" stroke-width="0.6" />
<line x1="401.57" y1="246.0" x2="401.57" y2="247.2" stroke="#adadad" stroke-width="0.6" />
<line x1="407.94" y1="384.0" x2="407.94" y2="382.8" stroke="#adadad" stroke-width="0.6" />
<line x1="407.94" y1="246.0" x2="407.94" y2="247.2" stroke="#adadad" stroke-width="0.6" />
<line x1="413.33" y1="384.0" x2="413.33" y2="382.8" stroke="#adadad" stroke-width="0.6" />
<line x1="413.33" y1="246.0" x2="413.33" y2="247.2" stroke="#adadad" stroke-width="0.6" />
<line x1="418.0" y1="384.0" x2="418.0" y2="382.8" stroke="#adadad" stroke-width="0.6" />
<line x1="418.0" y1="246.0" x2="418.0" y2="247.2" stroke="#adadad" stroke-width="0.6" />
<line x1="422.12" y1="384.0" x2="422.12" y2="382.8" stroke="#adadad" stroke-width="0.6" />
<line x1="422.12" y1="246.0" x2="422.12" y2="247.2" stroke="#adadad" stroke-width="0.6" />
<line x1="450.03" y1="384.0" x2="450.03" y2="382.8" stroke="#adadad" stroke-width="0.6" />
<line x1="450.03" y1="246.0" x2="450.03" y2="247.2" stroke="#adadad" stroke-width="0.6" />
<line x1="464.21" y1="384.0" x2="464.21" y2="382.8" stroke="#adadad" stroke-width="0.6" />
<line x1="464.21" y1="246.0" x2="464.21" y2="247.2" stroke="#adadad" stroke-width="0.6" />
<line x1="474.27" y1="384.0" x2="474.27" y2="382.8" stroke="#adadad" stroke-width="0.6" />
<line x1="474.27" y1="246.0" x2="474.27" y2="247.2" stroke="#adadad" stroke-width="0.6" />
<line x1="482.07" y1="384.0" x2="482.07" y2="382.8" stroke="#adadad" stroke-width="0.6" />
<line x1="482.07" y1="246.0" x2="482.07" y2="247.2" stroke="#adadad" stroke-width="0.6" />
<line x1="488.44" y1="384.0" x2="488.44" y2="382.8" stroke="#adadad" stroke-width="0.6" />
<line x1="488.44" y1="246.0" x2="488.44" y2="247.2" stroke="#adadad" stroke-width="0.6" />
<line x1="493.83" y1="384.0" x2="493.83" y2="382.8" stroke="#adadad" stroke-width="0.6" />
<line x1="493.83" y1="246.0" x2="493.83" y2="247.2" stroke="#adadad" stroke-width="0.6" />
<line x1="498.5" y1="384.0" x2="498.5" y2="382.8" stroke="#adadad" stroke-width="0.6" />
<line x1="498.5" y1="246.0" x2="498.5" y2="247.2" stroke="#adadad" stroke-width="0.6" />
<text x="337.6" y="402.0" font-size="13" text-anchor="start" fill="#1e1e1e" stroke="#1e1e1e">10<tspan font-size="8.8" dy="-4.6">2</tspan></text>
<text x="418.6" y="402.0" font-size="13" text-anchor="start" fill="#1e1e1e" stroke="#1e1e1e">10<tspan font-size="8.8" dy="-4.6">3</tspan></text>
<text x="381.2" y="419.0" font-size="14.6" fill="#1e1e1e" stroke="#1e1e1e">NIO<tspan font-size="10.2" dy="4.2">speckle</tspan></text>
<text transform="translate(289.8,319.6) rotate(-90)" font-size="12.9" text-anchor="middle" fill="#1e1e1e" stroke="#1e1e1e">SNR<tspan font-size="9" dy="-5.2">2</tspan></text>
<circle cx="336.6" cy="263.2" r="1.45" fill="#1d5690"/>
<line x1="329.2" y1="274.3" x2="345.0" y2="274.3" stroke="#d05a26" stroke-width="1.6" />
<text x="347.0" y="267.4" font-size="9.3" text-anchor="start" fill="#1e1e1e" stroke="#1e1e1e" >Experimental results</text>
<text x="347.0" y="279.6" font-size="9.3" text-anchor="start" fill="#1e1e1e" stroke="#1e1e1e" >Theoretical results</text>
<line x1="321.5" y1="359.6" x2="465.2" y2="253.5" stroke="#d05a26" stroke-width="1.45" />
<circle cx="329.2" cy="356.2" r="1.45" fill="#1d5690"/>
<circle cx="337.9" cy="351.3" r="1.45" fill="#1d5690"/>
<circle cx="345.2" cy="346.5" r="1.45" fill="#1d5690"/>
<circle cx="358.1" cy="336.5" r="1.45" fill="#1d5690"/>
<circle cx="363.8" cy="333.1" r="1.45" fill="#1d5690"/>
<circle cx="373.8" cy="325.2" r="1.45" fill="#1d5690"/>
<circle cx="382.5" cy="320.0" r="1.45" fill="#1d5690"/>
<circle cx="390.4" cy="314.6" r="1.45" fill="#1d5690"/>
<circle cx="397.5" cy="308.8" r="1.45" fill="#1d5690"/>
<circle cx="407.0" cy="302.9" r="1.45" fill="#1d5690"/>
<circle cx="417.8" cy="295.7" r="1.45" fill="#1d5690"/>
<circle cx="427.0" cy="291.1" r="1.45" fill="#1d5690"/>
<circle cx="435.5" cy="286.5" r="1.45" fill="#1d5690"/>
<circle cx="446.4" cy="281.1" r="1.45" fill="#1d5690"/>
<circle cx="455.8" cy="277.2" r="1.45" fill="#1d5690"/>
<circle cx="465.4" cy="273.5" r="1.45" fill="#1d5690"/>
<text x="2.4" y="456.6" font-size="19.2" text-anchor="start" fill="#1e1e1e" stroke="#1e1e1e" >(e)</text>
<rect x="55.6" y="464.3" width="173.20000000000002" height="125.30000000000001" fill="none" stroke="#adadad" stroke-width="1.2"/>
<line x1="55.6" y1="575.5" x2="57.800000000000004" y2="575.5" stroke="#adadad" stroke-width="0.8" />
<line x1="228.8" y1="575.5" x2="226.60000000000002" y2="575.5" stroke="#adadad" stroke-width="0.8" />
<line x1="55.6" y1="553.3" x2="57.800000000000004" y2="553.3" stroke="#adadad" stroke-width="0.8" />
<line x1="228.8" y1="553.3" x2="226.60000000000002" y2="553.3" stroke="#adadad" stroke-width="0.8" />
<line x1="55.6" y1="531.1" x2="57.800000000000004" y2="531.1" stroke="#adadad" stroke-width="0.8" />
<line x1="228.8" y1="531.1" x2="226.60000000000002" y2="531.1" stroke="#adadad" stroke-width="0.8" />
<line x1="55.6" y1="508.9" x2="57.800000000000004" y2="508.9" stroke="#adadad" stroke-width="0.8" />
<line x1="228.8" y1="508.9" x2="226.60000000000002" y2="508.9" stroke="#adadad" stroke-width="0.8" />
<line x1="55.6" y1="486.7" x2="57.800000000000004" y2="486.7" stroke="#adadad" stroke-width="0.8" />
<line x1="228.8" y1="486.7" x2="226.60000000000002" y2="486.7" stroke="#adadad" stroke-width="0.8" />
<text x="54.6" y="582.4" font-size="12.6" text-anchor="end" fill="#1e1e1e" stroke="#1e1e1e" >0</text>
<text x="54.6" y="560.3" font-size="12.6" text-anchor="end" fill="#1e1e1e" stroke="#1e1e1e" >0.2</text>
<text x="54.6" y="538.1999999999999" font-size="12.6" text-anchor="end" fill="#1e1e1e" stroke="#1e1e1e" >0.4</text>
<text x="54.6" y="516.1" font-size="12.6" text-anchor="end" fill="#1e1e1e" stroke="#1e1e1e" >0.6</text>
<text x="54.6" y="494.0" font-size="12.6" text-anchor="end" fill="#1e1e1e" stroke="#1e1e1e" >0.8</text>
<text x="54.6" y="471.9" font-size="12.6" text-anchor="end" fill="#1e1e1e" stroke="#1e1e1e" >1</text>
<line x1="84.47" y1="589.6" x2="84.47" y2="587.4" stroke="#adadad" stroke-width="0.8" />
<line x1="84.47" y1="464.3" x2="84.47" y2="466.5" stroke="#adadad" stroke-width="0.8" />
<line x1="113.34" y1="589.6" x2="113.34" y2="587.4" stroke="#adadad" stroke-width="0.8" />
<line x1="113.34" y1="464.3" x2="113.34" y2="466.5" stroke="#adadad" stroke-width="0.8" />
<line x1="142.21" y1="589.6" x2="142.21" y2="587.4" stroke="#adadad" stroke-width="0.8" />
<line x1="142.21" y1="464.3" x2="142.21" y2="466.5" stroke="#adadad" stroke-width="0.8" />
<line x1="171.08" y1="589.6" x2="171.08" y2="587.4" stroke="#adadad" stroke-width="0.8" />
<line x1="171.08" y1="464.3" x2="171.08" y2="466.5" stroke="#adadad" stroke-width="0.8" />
<line x1="199.95" y1="589.6" x2="199.95" y2="587.4" stroke="#adadad" stroke-width="0.8" />
<line x1="199.95" y1="464.3" x2="199.95" y2="466.5" stroke="#adadad" stroke-width="0.8" />
<text x="55.6" y="607.4" font-size="12.6" text-anchor="middle" fill="#1e1e1e" stroke="#1e1e1e" >0</text>
<text x="113.34" y="607.4" font-size="12.6" text-anchor="middle" fill="#1e1e1e" stroke="#1e1e1e" >2</text>
<text x="171.08" y="607.4" font-size="12.6" text-anchor="middle" fill="#1e1e1e" stroke="#1e1e1e" >4</text>
<text x="228.82" y="607.4" font-size="12.6" text-anchor="middle" fill="#1e1e1e" stroke="#1e1e1e" >6</text>
<text x="131.2" y="622.8" font-size="14.5" text-anchor="start" fill="#1e1e1e" stroke="#1e1e1e" >t (s)</text>
<text x="200.0" y="622.4" font-size="10.6" text-anchor="start" fill="#1e1e1e" stroke="#1e1e1e" >×10<tspan font-size="9.6" dy="-4.4">-4</tspan></text>
<text transform="translate(25.4,526) rotate(-90)" font-size="13.2" text-anchor="middle" fill="#1e1e1e" stroke="#1e1e1e">|g<tspan font-size="8.6" dy="2.6">1</tspan><tspan dy="-2.6">(t)|</tspan><tspan font-size="8.6" dy="-5.4">2</tspan></text>
<polyline points="61.3,493.3 64.0,494.4 66.8,500.9 70.0,508.4 73.3,517.0 76.5,525.6 80.8,535.3 85.1,545.0 89.4,553.5 93.7,558.9 98.0,563.2 104.5,567.5 113.1,570.8 119.5,572.9 126.3,574.4 132.7,575.5 140.1,576.5 145.4,575.5 151.7,574.4 159.1,574.4 164.4,573.4 170.8,574.4 179.2,574.4 187.7,576.1 194.0,577.0 199.3,577.6" fill="none" stroke="#e01414" stroke-width="2" stroke-linejoin="round"/>
<polyline points="60.8,466.8 64.7,481.5 67.9,496.6 71.1,511.6 74.4,528.8 77.6,546.0 80.8,561.0 84.0,574.0 88.3,582.6 93.7,586.9 100.2,589.0 104.5,588.6 108.8,583.7 113.1,578.3 118.4,571.8 123.2,564.9 126.3,558.6 130.2,552.8 134.8,555.4 141.2,557.1 145.4,559.6 149.6,567.0 153.8,572.3 159.1,579.1 164.4,578.7 171.8,577.6 177.1,577.6 181.3,580.8 185.6,584.0 189.8,586.1 194.5,587.5" fill="none" stroke="#1e1ed2" stroke-width="2.2" stroke-dasharray="6.8 6.4" stroke-linejoin="round"/>
<line x1="112.0" y1="478.0" x2="118.8" y2="478.0" stroke="#1e1ed2" stroke-width="2.2" />
<line x1="123.8" y1="478.0" x2="129.4" y2="478.0" stroke="#1e1ed2" stroke-width="2.2" />
<line x1="112.0" y1="491.3" x2="129.4" y2="491.3" stroke="#e01414" stroke-width="2" />
<text x="133.4" y="482.6" font-size="11.2" fill="#1e1e1e" stroke="#1e1e1e">NIO<tspan font-size="7.6" dy="2.6">temporal</tspan><tspan dy="-2.6"> = 50</tspan></text>
<text x="133.4" y="495.8" font-size="11.2" fill="#1e1e1e" stroke="#1e1e1e">NIO<tspan font-size="7.6" dy="2.6">temporal</tspan><tspan dy="-2.6"> = 1000</tspan></text>
<text x="273.6" y="464.8" font-size="19.2" text-anchor="start" fill="#1e1e1e" stroke="#1e1e1e" >(f)</text>
<defs><filter id="nz" x="335" y="462" width="130" height="130" filterUnits="userSpaceOnUse" color-interpolation-filters="sRGB"><feTurbulence type="fractalNoise" baseFrequency="0.12" numOctaves="2" seed="4" result="n"/><feColorMatrix in="n" type="matrix" values="1 0 0 0 0 1 0 0 0 0 1 0 0 0 0 0 0 0 0 1"/><feComponentTransfer><feFuncR type="table" tableValues="0.243 0.243 0.243 0.243 0.243 0.243 0.243 0.243 0.233 0.208 0.183 0.158 0.133 0.127 0.122 0.116 0.110 0.125 0.139 0.154 0.235 0.333 0.431 0.556 0.699 0.842 0.907 0.953 0.980 0.980 0.980 0.980 0.980"/><feFuncG type="table" tableValues="0.243 0.243 0.243 0.243 0.243 0.243 0.243 0.243 0.263 0.313 0.363 0.413 0.463 0.500 0.537 0.575 0.612 0.649 0.685 0.722 0.743 0.760 0.777 0.784 0.784 0.784 0.821 0.867 0.894 0.894 0.894 0.894 0.894"/><feFuncB type="table" tableValues="0.831 0.831 0.831 0.831 0.831 0.831 0.831 0.831 0.839 0.856 0.874 0.892 0.910 0.906 0.902 0.898 0.894 0.833 0.772 0.710 0.618 0.517 0.417 0.339 0.278 0.216 0.175 0.139 0.118 0.118 0.118 0.118 0.118"/></feComponentTransfer></filter>
<linearGradient id="cb" x1="0" y1="0" x2="0" y2="1"><stop offset="0.0000" stop-color="#f9fb0e"/><stop offset="0.0625" stop-color="#f5de21"/><stop offset="0.1250" stop-color="#fec932"/><stop offset="0.1875" stop-color="#f2b949"/><stop offset="0.2500" stop-color="#d3bb58"/><stop offset="0.3125" stop-color="#b1bd66"/><stop offset="0.3750" stop-color="#8bbf75"/><stop offset="0.4375" stop-color="#5ebe89"/><stop offset="0.5000" stop-color="#33b8a1"/><stop offset="0.5625" stop-color="#13b0b6"/><stop offset="0.6250" stop-color="#06a6c7"/><stop offset="0.6875" stop-color="#0a97d1"/><stop offset="0.7500" stop-color="#1484d4"/><stop offset="0.8125" stop-color="#0c74dd"/><stop offset="0.8750" stop-color="#0462e0"/><stop offset="0.9375" stop-color="#3243b9"/><stop offset="1.0000" stop-color="#352a87"/></linearGradient></defs>
<rect x="335" y="462" width="130" height="129.6" fill="#2d98c8"/>
<rect x="335" y="462" width="130" height="129.6" fill="#2d98c8" filter="url(#nz)"/>
<line x1="356.2" y1="483.1" x2="370.2" y2="483.1" stroke="#cf5b21" stroke-width="2.7" />
<line x1="380.6" y1="483.1" x2="393.3" y2="483.1" stroke="#cf5b21" stroke-width="2.7" />
<line x1="403.5" y1="483.1" x2="416.3" y2="483.1" stroke="#cf5b21" stroke-width="2.7" />
<line x1="426.5" y1="483.1" x2="439.4" y2="483.1" stroke="#cf5b21" stroke-width="2.7" />
<line x1="442.8" y1="489.4" x2="442.8" y2="502.0" stroke="#cf5b21" stroke-width="2.7" />
<line x1="442.8" y1="511.5" x2="442.8" y2="524.2" stroke="#cf5b21" stroke-width="2.7" />
<line x1="442.8" y1="535.4" x2="442.8" y2="547.9" stroke="#cf5b21" stroke-width="2.7" />
<line x1="442.8" y1="557.5" x2="442.8" y2="568.9" stroke="#cf5b21" stroke-width="2.7" />
<line x1="356.2" y1="567.6" x2="361.5" y2="567.6" stroke="#cf5b21" stroke-width="2.7" />
<line x1="372.0" y1="567.6" x2="384.6" y2="567.6" stroke="#cf5b21" stroke-width="2.7" />
<line x1="395.2" y1="567.6" x2="407.7" y2="567.6" stroke="#cf5b21" stroke-width="2.7" />
<line x1="418.5" y1="567.6" x2="430.5" y2="567.6" stroke="#cf5b21" stroke-width="2.7" />
<line x1="440.4" y1="567.6" x2="444.1" y2="567.6" stroke="#cf5b21" stroke-width="2.7" />
<line x1="357.5" y1="491.3" x2="357.5" y2="502.0" stroke="#cf5b21" stroke-width="2.7" />
<line x1="357.5" y1="512.5" x2="357.5" y2="525.0" stroke="#cf5b21" stroke-width="2.7" />
<line x1="357.5" y1="535.4" x2="357.5" y2="547.9" stroke="#cf5b21" stroke-width="2.7" />
<line x1="357.5" y1="557.5" x2="357.5" y2="568.9" stroke="#cf5b21" stroke-width="2.7" />
<line x1="384.2" y1="508.1" x2="396.9" y2="508.1" stroke="#fff" stroke-width="3.0" />
<line x1="400.2" y1="508.1" x2="409.9" y2="508.1" stroke="#fff" stroke-width="3.0" />
<line x1="411.5" y1="508.1" x2="417.8" y2="508.1" stroke="#fff" stroke-width="3.0" />
<line x1="385.7" y1="506.6" x2="385.7" y2="514.1" stroke="#fff" stroke-width="3.0" />
<line x1="385.7" y1="517.8" x2="385.7" y2="527.8" stroke="#fff" stroke-width="3.0" />
<line x1="385.7" y1="531.1" x2="385.7" y2="540.4" stroke="#fff" stroke-width="3.0" />
<line x1="416.3" y1="506.6" x2="416.3" y2="512.5" stroke="#fff" stroke-width="3.0" />
<line x1="416.3" y1="516.1" x2="416.3" y2="526.2" stroke="#fff" stroke-width="3.0" />
<line x1="416.3" y1="529.5" x2="416.3" y2="540.4" stroke="#fff" stroke-width="3.0" />
<line x1="384.2" y1="538.9" x2="387.3" y2="538.9" stroke="#fff" stroke-width="3.0" />
<line x1="390.1" y1="538.9" x2="400.2" y2="538.9" stroke="#fff" stroke-width="3.0" />
<line x1="403.4" y1="538.9" x2="413.1" y2="538.9" stroke="#fff" stroke-width="3.0" />
<line x1="414.8" y1="538.9" x2="417.8" y2="538.9" stroke="#fff" stroke-width="3.0" />
<rect x="419.0" y="583.3" width="35.4" height="3.4" fill="#fff"/>
<text x="416.0" y="578.7" font-size="14.4" text-anchor="start" fill="#fff" stroke="#fff" >50 µm</text>
<rect x="469.8" y="465.4" width="8.2" height="120" fill="url(#cb)"/>
<text x="479.4" y="480.9" font-size="12.6" text-anchor="start" fill="#1e1e1e" stroke="#1e1e1e" >600</text>
<text x="479.4" y="515.7" font-size="12.6" text-anchor="start" fill="#1e1e1e" stroke="#1e1e1e" >500</text>
<text x="479.4" y="551.1" font-size="12.6" text-anchor="start" fill="#1e1e1e" stroke="#1e1e1e" >400</text>
<text x="479.4" y="585.8" font-size="12.6" text-anchor="start" fill="#1e1e1e" stroke="#1e1e1e" >300</text>
<text transform="translate(508.4,532.2) rotate(90)" font-size="14.6" text-anchor="middle" fill="#1e1e1e" stroke="#1e1e1e">Pixel value</text>
</svg></body></html>
